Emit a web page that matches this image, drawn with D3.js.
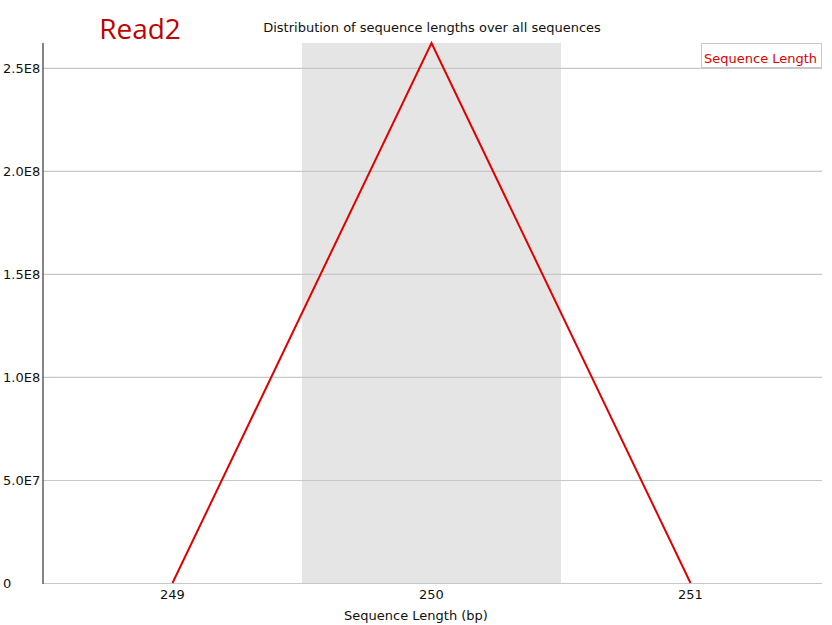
<!DOCTYPE html>
<html>
<head>
<meta charset="utf-8">
<script src="https://cdn.jsdelivr.net/npm/d3@7"></script>
<style>
  body { margin: 0; background: #fff; }
  text { font-family: "DejaVu Sans", sans-serif; }
</style>
</head>
<body>
<script>
// Sequence length distribution (read 2)
var lengths = ["249", "250", "251"];
var counts = [0, 262100000, 0];
var yTicks = [0, 5e7, 1e8, 1.5e8, 2e8, 2.5e8];
var yTickLabels = ["0", "5.0E7", "1.0E8", "1.5E8", "2.0E8", "2.5E8"];

var W = 832, H = 625;
var plotLeft = 43, plotRight = 822, plotTop = 43, plotBottom = 583;

var svg = d3.select('body').append('svg').attr('width', W).attr('height', H);

var x = d3.scaleBand().domain(lengths).range([plotLeft, plotLeft + 3 * 259]);
var y = d3.scaleLinear().domain([0, d3.max(counts)]).range([plotBottom, plotTop]);

/***********************************************************************************/
// Shaded bands on alternate positions
svg.selectAll('rect.band').data(lengths.filter(function(d, i){ return i % 2 == 1; }))
  .enter().append('rect')
  .attr('x', function(d){ return x(d); })
  .attr('y', plotTop)
  .attr('width', x.bandwidth())
  .attr('height', plotBottom - plotTop)
  .attr('fill', '#e5e5e5');

/***********************************************************************************/
// Grid lines and y labels
svg.selectAll('line.grid').data(yTicks).enter().append('line')
  .attr('x1', plotLeft).attr('x2', plotRight)
  .attr('y1', function(d){ return y(d) + 0.5; })
  .attr('y2', function(d){ return y(d) + 0.5; })
  .attr('stroke', '#c8c8c8').attr('stroke-width', 1.2);

svg.selectAll('text.ylab').data(yTicks).enter().append('text')
  .attr('x', 3)
  .attr('y', function(d){ return y(d) + 5; })
  .attr('font-size', 13).attr('fill', '#111')
  .text(function(d, i){ return yTickLabels[i]; });

// y axis line
svg.append('line')
  .attr('x1', plotLeft).attr('x2', plotLeft)
  .attr('y1', plotTop).attr('y2', plotBottom + 1)
  .attr('stroke', '#444').attr('stroke-width', 1.3);

// x labels
svg.selectAll('text.xlab').data(lengths).enter().append('text')
  .attr('x', function(d){ return x(d) + x.bandwidth() / 2; })
  .attr('y', 599)
  .attr('text-anchor', 'middle')
  .attr('font-size', 13).attr('fill', '#111')
  .text(function(d){ return d; });

/***********************************************************************************/
// Line
var line = d3.line()
  .x(function(d, i){ return x(lengths[i]) + x.bandwidth() / 2; })
  .y(function(d){ return y(d); });

svg.append('path').datum(counts)
  .attr('d', line)
  .attr('fill', 'none')
  .attr('stroke', '#e00000')
  .attr('stroke-width', 2);

/***********************************************************************************/
// Titles
svg.append('text')
  .attr('x', 432).attr('y', 32)
  .attr('text-anchor', 'middle')
  .attr('font-size', 13).attr('fill', '#111')
  .text('Distribution of sequence lengths over all sequences');

svg.append('text')
  .attr('x', 416).attr('y', 620)
  .attr('text-anchor', 'middle')
  .attr('font-size', 13).attr('fill', '#111')
  .text('Sequence Length (bp)');

svg.append('text')
  .attr('x', 140).attr('y', 39)
  .attr('text-anchor', 'middle')
  .style('font-family', '"Open Sans", "Noto Sans", sans-serif')
  .attr('font-size', 28).attr('fill', '#c00000')
  .text('Read2');

// Legend
svg.append('rect')
  .attr('x', 701.5).attr('y', 43.5)
  .attr('width', 120).attr('height', 24)
  .attr('fill', '#fff').attr('stroke', '#c8c8c8');

svg.append('text')
  .attr('x', 704).attr('y', 63)
  .attr('font-size', 13).attr('fill', '#e00000')
  .text('Sequence Length');
</script>
</body>
</html>
